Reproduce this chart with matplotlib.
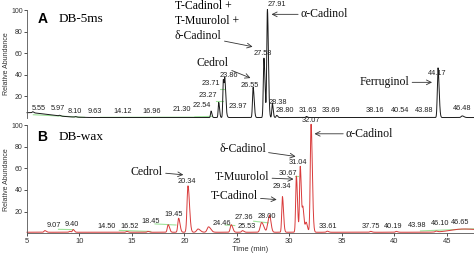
import numpy as np
import matplotlib
matplotlib.use("Agg")
import matplotlib.pyplot as plt

# ---- data (retention time in min, relative abundance %) ----
# Panel A: DB-5ms (black trace)
a_rt = [5.0, 5.55, 8.10, 9.63, 22.54, 23.27, 23.71, 23.86, 23.97, 26.55,
        27.58, 27.91, 28.38, 28.80, 31.63, 44.17, 46.48]
a_height = [4.5, 1.0, 0.6, 0.5, 6, 14, 35, 30, 3, 28,
            55, 100, 13, 2, 1, 46, 1.5]
a_width = [1.3, 0.06, 0.06, 0.06, 0.05, 0.05, 0.05, 0.05, 0.06, 0.06,
           0.06, 0.06, 0.05, 0.06, 0.06, 0.065, 0.1]

# Panel B: DB-wax (red trace)
b_rt = [6.7, 9.07, 9.40, 14.50, 16.52, 18.45, 19.45, 20.34, 21.3, 22.3,
        24.46, 25.53, 27.36, 28.00, 28.15, 29.34, 30.67, 31.04, 31.3, 31.6,
        32.07, 33.61, 37.75, 40.19, 43.98, 46.6]
b_height = [1.5, 0.8, 2.5, 0.8, 0.8, 7, 13, 43, 3, 5,
            7, 1.5, 9, 10, 9, 33, 52, 61, 21, 9,
            100, 1.0, 0.8, 0.8, 0.8, 3]
b_width = [0.08, 0.07, 0.07, 0.07, 0.07, 0.08, 0.08, 0.09, 0.13, 0.13,
           0.09, 0.08, 0.13, 0.1, 0.08, 0.065, 0.065, 0.065, 0.065, 0.08,
           0.075, 0.08, 0.08, 0.08, 0.08, 1.2]

# peak labels: text and where they sit (data coords of each panel, label centre)
a_labels = ["5.55", "5.97", "8.10", "9.63", "14.12", "16.96", "21.30", "22.54",
            "23.27", "23.71", "23.86", "23.97", "26.55", "27.58", "27.91",
            "28.38", "28.80", "31.63", "33.69", "38.16", "40.54", "43.88",
            "44.17", "46.48"]
a_label_x = [6.1, 7.9, 9.6, 11.5, 14.1, 16.9, 19.8, 21.7,
             22.2, 22.5, 24.2, 25.1, 26.2, 27.5, 28.8,
             28.9, 29.6, 31.8, 34.0, 38.2, 40.6, 42.8,
             44.1, 46.5]
a_label_y = [8.4, 8.4, 5.6, 5.6, 5.6, 5.6, 7.5, 12,
             20.5, 32, 39, 11, 30, 60, 105.5,
             14, 6.5, 6.5, 6.5, 6.5, 6.5, 6.5,
             41, 8.4]

b_labels = ["9.07", "9.40", "14.50", "16.52", "18.45", "19.45", "20.34",
            "24.46", "27.36", "25.53", "28.00", "29.34", "30.67", "31.04",
            "32.07", "33.61", "37.75", "40.19", "43.98", "46.10", "46.65"]
b_label_x = [7.6, 9.3, 12.6, 14.8, 16.8, 19.0, 20.2,
             23.6, 25.7, 25.9, 27.9, 29.3, 29.9, 30.8,
             32.1, 33.7, 37.8, 39.9, 42.2, 44.4, 46.3]
b_label_y = [7.4, 8.3, 6.5, 6.5, 11, 17.6, 48,
             9.3, 14, 6.5, 15.7, 43.5, 55.5, 65.7,
             104.6, 6.5, 6.5, 6.5, 7.4, 9.3, 10.2]

# light green integration baselines (start, end, level start, level end)
a_green = [(5.6, 10.5, 3.0, 0.6), (12.0, 21.5, 0.6, 0.8), (21.0, 22.6, 1.0, 1.5),
           (23.0, 23.7, 16, 16), (23.4, 23.8, 27, 27)]
b_green = [(8.0, 9.4, 3.5, 3.2), (13.8, 16.8, 2.5, 1.5), (17.2, 19.2, 8.5, 7.5),
           (23.9, 24.8, 7.5, 7.0), (26.6, 28.0, 11, 9.5), (30.5, 30.8, 53, 53),
           (42.5, 47.6, 2.0, 4.0)]

TRACE_A = "#1a1a1a"
TRACE_B = "#d93a3a"
GREEN = "#9ee39a"
SERIF = ["Liberation Serif", "DejaVu Serif"]
SANS = ["Liberation Sans", "DejaVu Sans"]

plt.rcParams["font.family"] = SANS


def trace(rt, height, width, x):
    y = np.zeros_like(x)
    for r, h, w in zip(rt, height, width):
        # a little tailing on the right side
        s = np.where(x < r, w, w * 1.6)
        y += h * np.exp(-0.5 * ((x - r) / s) ** 2)
    return y


x = np.linspace(5, 47.6, 8000)

fig = plt.figure(figsize=(4.74, 2.57), dpi=100)
ax_a = fig.add_axes([0.057, 0.541, 0.943, 0.420])
ax_b = fig.add_axes([0.057, 0.093, 0.943, 0.420])

for ax in (ax_a, ax_b):
    ax.set_xlim(5, 47.6)
    ax.set_ylim(0, 100)
    ax.set_yticks([20, 40, 60, 80, 100])
    ax.tick_params(axis="y", labelsize=5, length=2, width=0.6, pad=1, colors="#333333")
    ax.spines["top"].set_visible(False)
    ax.spines["right"].set_visible(False)
    ax.spines["left"].set_linewidth(0.6)
    ax.spines["left"].set_color("#555555")
    ax.set_ylabel("Relative Abundance", fontsize=5, color="#333333", labelpad=1)

ax_a.spines["bottom"].set_visible(False)
ax_a.set_xticks([])
ax_b.spines["bottom"].set_linewidth(0.6)
ax_b.spines["bottom"].set_color("#555555")
ax_b.set_xticks([5, 10, 15, 20, 25, 30, 35, 40, 45])
ax_b.tick_params(axis="x", labelsize=5.5, length=2, width=0.6, pad=1.5, colors="#333333")
ax_b.set_xlabel("Time (min)", fontsize=5.5, color="#333333", labelpad=1)

for x0, x1, y0, y1 in a_green:
    ax_a.plot([x0, x1], [y0, y1], color=GREEN, lw=0.8)
for x0, x1, y0, y1 in b_green:
    ax_b.plot([x0, x1], [y0, y1], color=GREEN, lw=0.8)

ax_a.plot(x, trace(a_rt, a_height, a_width, x) + 0.4, color=TRACE_A, lw=0.7, clip_on=False)
ax_b.plot(x, trace(b_rt, b_height, b_width, x) + 0.8, color=TRACE_B, lw=0.7, clip_on=False)

for lab, lx, ly in zip(a_labels, a_label_x, a_label_y):
    ax_a.text(lx, ly, lab, fontsize=5.3, color="#222222", ha="center", va="center", clip_on=False)
for lab, lx, ly in zip(b_labels, b_label_x, b_label_y):
    ax_b.text(lx, ly, lab, fontsize=5.3, color="#222222", ha="center", va="center", clip_on=False)

# panel titles
ax_a.text(6.0, 92, "A", fontsize=10, fontweight="bold", va="center", family=SANS)
ax_a.text(8.0, 92, "DB-5ms", fontsize=9.5, va="center", family=SERIF)
ax_b.text(6.0, 89, "B", fontsize=10, fontweight="bold", va="center", family=SANS)
ax_b.text(8.0, 89, "DB-wax", fontsize=9.5, va="center", family=SERIF)

arrow = dict(arrowstyle="->", color="#333333", lw=0.6, shrinkA=0, shrinkB=0)
ann = dict(fontsize=8.5, family=SERIF, color="#111111", annotation_clip=False)

# panel A annotations
ax_a.text(19.1, 104, "T-Cadinol +", va="center", fontsize=8.5, family=SERIF, clip_on=False)
ax_a.text(19.1, 90, "T-Muurolol +", va="center", fontsize=8.5, family=SERIF, clip_on=False)
ax_a.annotate("δ-Cadinol", xy=(26.5, 66), xytext=(19.1, 76), va="center",
              arrowprops=arrow, **ann)
ax_a.annotate("Cedrol", xy=(26.3, 37), xytext=(21.2, 51), va="center",
              arrowprops=arrow, **ann)
ax_a.annotate("α-Cadinol", xy=(28.3, 96), xytext=(31.1, 96), va="center",
              arrowprops=arrow, **ann)
ax_a.annotate("Ferruginol", xy=(43.6, 33), xytext=(36.7, 33), va="center",
              arrowprops=arrow, **ann)

# panel B annotations
ax_b.annotate("Cedrol", xy=(19.9, 54), xytext=(14.9, 57), va="center",
              arrowprops=arrow, **ann)
ax_b.annotate("δ-Cadinol", xy=(30.6, 71), xytext=(23.3, 78), va="center",
              arrowprops=arrow, **ann)
ax_b.annotate("T-Muurolol", xy=(30.4, 50), xytext=(22.9, 52), va="center",
              arrowprops=arrow, **ann)
ax_b.annotate("T-Cadinol", xy=(28.8, 31), xytext=(22.5, 34), va="center",
              arrowprops=arrow, **ann)
ax_b.annotate("α-Cadinol", xy=(32.4, 92), xytext=(35.4, 92), va="center",
              arrowprops=arrow, **ann)

fig.savefig("out.png", dpi=100)
